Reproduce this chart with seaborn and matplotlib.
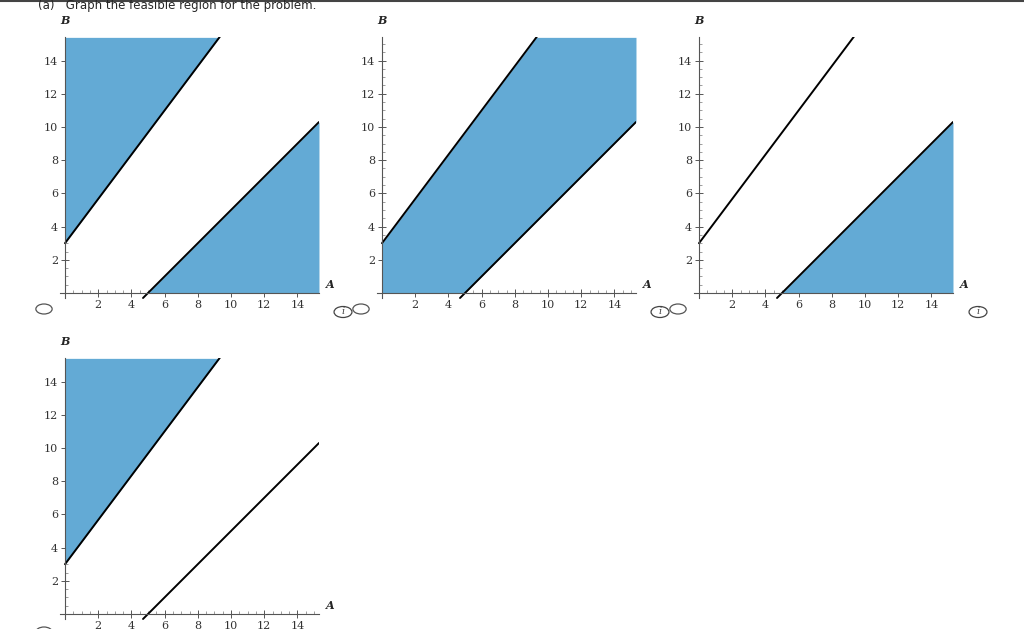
import matplotlib
matplotlib.use("Agg")
import matplotlib.pyplot as plt
import seaborn as sns
import numpy as np
from matplotlib.ticker import FixedLocator
from matplotlib.patches import Circle

sns.set_style("white")
plt.rcParams['font.family'] = ['DejaVu Sans']

# constraint lines: B = 3 + 4/3 A  and  B = A - 5
upper_intercept = 3
upper_slope = 4 / 3
lower_intercept = -5
lower_slope = 1
x_ticks = [2, 4, 6, 8, 10, 12, 14]
y_ticks = [2, 4, 6, 8, 10, 12, 14]
# which regions are shaded in each option
options = [("above", "below"), ("between",), ("below",), ("above",)]

XMIN, XMAX, YMIN, YMAX = -0.6, 15.3, -0.6, 15.4
W, H = 1024, 629
fill_col = "#63aad5"

fig = plt.figure(figsize=(W / 100, H / 100), dpi=100)
# pixel origin (data 0,0) of each panel
origins = [(65, 293), (382, 293), (699, 293), (65, 614)]
scale = 16.6

def upper(x):
    return upper_intercept + upper_slope * x

def lower(x):
    return lower_intercept + lower_slope * x

minor = [v for v in np.arange(0.5, 15.3, 0.5) if v % 2 != 0]

for (ox, oy), opt in zip(origins, options):
    left = ox + XMIN * scale
    bottom = H - (oy - YMIN * scale)
    ax = fig.add_axes([left / W, bottom / H, (XMAX - XMIN) * scale / W, (YMAX - YMIN) * scale / H])
    ax.set_xlim(XMIN, XMAX)
    ax.set_ylim(YMIN, YMAX)
    xs = np.linspace(0, XMAX, 400)
    if "above" in opt:
        ax.fill_between(xs, np.minimum(upper(xs), YMAX), YMAX, where=upper(xs) <= YMAX, color=fill_col, lw=0)
    if "below" in opt:
        ax.fill_between(xs, 0, np.maximum(lower(xs), 0), color=fill_col, lw=0)
    if "between" in opt:
        ax.fill_between(xs, np.maximum(lower(xs), 0), np.minimum(upper(xs), YMAX), color=fill_col, lw=0)
    xl = np.linspace(0, XMAX, 400)
    yu = upper(xl)
    sns.lineplot(x=xl[yu <= YMAX + 0.1], y=yu[yu <= YMAX + 0.1], color="black", lw=1.4, ax=ax)
    xl2 = np.linspace(4.7, XMAX, 200)
    sns.lineplot(x=xl2, y=lower(xl2), color="black", lw=1.4, ax=ax)

    for s in ["top", "right"]:
        ax.spines[s].set_visible(False)
    ax.spines["left"].set_position(("data", 0))
    ax.spines["bottom"].set_position(("data", 0))
    ax.spines["left"].set_bounds(YMIN + 0.3, YMAX)
    ax.spines["bottom"].set_bounds(XMIN + 0.3, XMAX)
    for s in ["left", "bottom"]:
        ax.spines[s].set_color("#555555")
        ax.spines[s].set_linewidth(0.8)
    ax.set_xticks(x_ticks)
    ax.set_yticks(y_ticks)
    ax.xaxis.set_minor_locator(FixedLocator(minor))
    ax.yaxis.set_minor_locator(FixedLocator(minor))
    ax.tick_params(which="major", direction="inout", length=6, width=0.7, colors="#555555",
                   labelsize=8, labelcolor="#333333", bottom=True, left=True, pad=2)
    ax.tick_params(which="minor", direction="in", length=2.5, width=0.5, colors="#777777", bottom=True, left=True)
    for lab in ax.get_xticklabels() + ax.get_yticklabels():
        lab.set_family("DejaVu Serif")
    ax.patch.set_alpha(0)
    ax.text(XMAX + 0.4, 0.3, "A", family="DejaVu Serif", style="italic", weight="bold", fontsize=8)
    ax.text(0, YMAX + 0.8, "B", family="DejaVu Serif", style="italic", weight="bold", fontsize=8, ha="center")

fig.text(38 / W, 1 - 5 / H, "(a)   Graph the feasible region for the problem.", fontsize=8.5, va="center")
fig.add_artist(plt.Line2D([0, 1], [1 - 0.5 / H, 1 - 0.5 / H], color="#444444", lw=1.5))

# radio buttons and info icons drawn as shapes
for x, y in [(44, 309), (361, 309), (678, 309), (44, 632)]:
    fig.add_artist(Circle((x / W, 1 - y / H), 5 / H, transform=fig.transFigure,
                          fill=False, ec="#555555", lw=0.9))
for x, y in [(343, 312), (660, 312), (978, 312)]:
    fig.add_artist(Circle((x / W, 1 - y / H), 5.5 / H, transform=fig.transFigure,
                          fill=False, ec="#444444", lw=0.9))
    fig.text(x / W, 1 - y / H, "i", family="DejaVu Serif", style="italic", fontsize=7,
             ha="center", va="center", color="#444444")

fig.savefig("out.png", dpi=100)
